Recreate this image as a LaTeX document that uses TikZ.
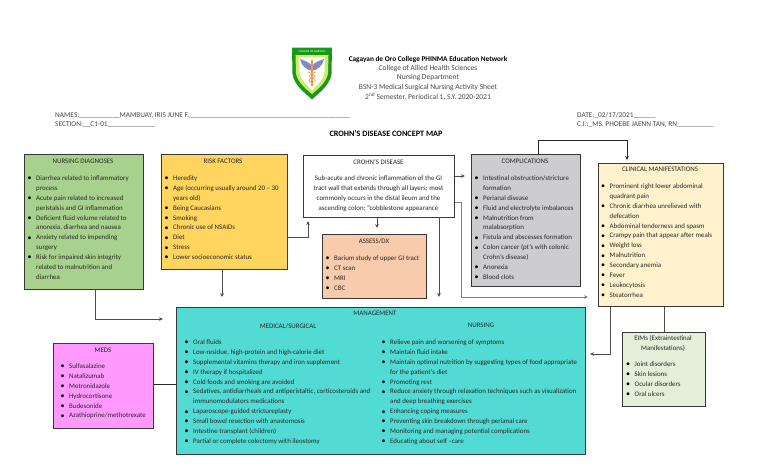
\documentclass[tikz,border=0pt]{standalone}
\usepackage{fontspec}
\setmainfont{Carlito}
\usetikzlibrary{arrows.meta}
\catcode`\_=12
\newcommand{\bl}[1]{\makebox[0pt][r]{\raisebox{-0.3pt}{\fontsize{8}{8}\selectfont\textcolor{black}{\char"2022}}\hspace{4.6pt}}#1\\}
\newcommand{\ct}[1]{#1\\}
\tikzset{
  x=1pt,y=-1pt,
  box/.style={draw=black!78,line width=0.9pt,inner sep=0,anchor=north west},
  txt/.style={inner sep=0,font=\fontsize{6.9}{9.9}\selectfont,text=black!85},
  lst/.style={txt,anchor=north west,align=left},
  ttl/.style={txt,anchor=center,align=center},
  conn/.style={draw=black!70,line width=1pt},
  arr/.style={conn,-{Stealth[length=4pt,width=3.6pt]}},
  hdr/.style={inner sep=0,font=\fontsize{7.5}{8}\selectfont,text=black!72,anchor=center}
}
\begin{document}
\begin{tikzpicture}
\useasboundingbox (0,0) rectangle (768,466);
\fill[white] (0,0) rectangle (768,466);
% logo
\fill[green!55!black!90!white] (292,47.5) -- (332,47.5) -- (331.5,74) .. controls (330,85) and (319,93) .. (312,99.5) .. controls (305,93) and (294,85) .. (292.5,74) -- cycle;
\fill[yellow!70!green!60!white] (295.5,55) -- (328.5,55) -- (328,73) .. controls (327,82) and (318,89) .. (312,94) .. controls (306,89) and (297,82) .. (296,73) -- cycle;
\fill[white] (299,57) -- (325,57) -- (324.5,72) .. controls (323.5,80) and (316.5,85.5) .. (312,90) .. controls (307.5,85.5) and (300.5,80) .. (299.5,72) -- cycle;
\fill[blue!35!gray!70] (300,59) .. controls (306,61) and (310,63) .. (312,66) .. controls (314,63) and (318,61) .. (324,59) .. controls (323,66) and (317,70) .. (312,71) .. controls (307,70) and (301,66) .. (300,59) -- cycle;
\draw[orange!70!brown!80,line width=1.1pt] (312,60) -- (312,86);
\draw[orange!70!brown!70,line width=0.7pt] (308,72) .. controls (316,75) and (317,77) .. (312,78) .. controls (308,79) and (308,81) .. (312,83);
\draw[orange!70!brown!70,line width=0.7pt] (316,72) .. controls (308,75) and (307,77) .. (312,78) .. controls (316,79) and (316,81) .. (312,83);
\node[inner sep=0,font=\fontsize{3}{3}\selectfont,text=white] (logotext) at (312,51.5) {COLLEGE OF NURSING};
% header
\node[hdr,font=\fontsize{7.3}{8}\selectfont\bfseries,text=black] (h1) at (428,59.5) {Cagayan de Oro College PHINMA Education Network};
\node[hdr] (h2) at (428,69) {College of Allied Health Sciences};
\node[hdr] (h3) at (428,78) {Nursing Department};
\node[hdr] (h4) at (428,87.5) {BSN-3 Medical Surgical Nursing Activity Sheet};
\node[hdr] (h5) at (428,97) {2\textsuperscript{nd} Semester, Periodical 1, S.Y. 2020-2021};
\node[hdr,anchor=west,font=\fontsize{7.35}{8}\selectfont] (h6) at (55,115.5) {NAMES:___________MAMBUAY, IRIS JUNE F.____________________________________________};
\node[hdr,anchor=west,font=\fontsize{7.35}{8}\selectfont] (h7) at (55,124.5) {SECTION:__C1-01_____________};
\node[hdr,anchor=west,font=\fontsize{7.35}{8}\selectfont] (h8) at (577,115.5) {DATE:_02/17/2021______};
\node[hdr,anchor=west,font=\fontsize{7.35}{8}\selectfont] (h9) at (577,124.5) {C.I.:_MS. PHOEBE JAENN TAN, RN__________};
\node[hdr,font=\fontsize{8.2}{9}\selectfont\bfseries,text=black] (h10) at (386,134) {CROHN'S DISEASE CONCEPT MAP};
% boxes
\node[box,fill={rgb,255:red,169;green,209;blue,142},minimum width=119.5pt,minimum height=135pt] (nd) at (23.5,154) {};
\node[box,fill={rgb,255:red,255;green,212;blue,95},minimum width=126pt,minimum height=115pt] (rf) at (161,154) {};
\node[box,fill=white,minimum width=151pt,minimum height=62pt] (cd) at (303,154.5) {};
\node[box,fill={rgb,255:red,248;green,203;blue,173},minimum width=104pt,minimum height=64pt] (ax) at (322,234) {};
\node[box,fill={rgb,255:red,205;green,204;blue,206},minimum width=109pt,minimum height=132pt] (cp) at (471,154) {};
\node[box,fill={rgb,255:red,255;green,242;blue,204},minimum width=125pt,minimum height=143pt] (cm) at (598,163) {};
\node[box,fill={rgb,255:red,226;green,240;blue,217},minimum width=83pt,minimum height=74pt] (em) at (622,332) {};
\node[box,fill={rgb,255:red,82;green,219;blue,212},minimum width=409pt,minimum height=147pt] (mg) at (176,307) {};
\node[box,fill={rgb,255:red,255;green,153;blue,255},minimum width=100pt,minimum height=85pt] (md) at (53,343) {};
% connectors
\coordinate (a1) at (163,319);
\draw[arr] (95,0 |- nd.south) -- (95,319) -- (a1);
\coordinate (a2) at (222,297);
\draw[arr] (222,0 |- rf.south) -- (a2);
\coordinate (a3) at (308,221);
\draw[arr] (rf.east |- 0,237) -- (308,237) -- (a3);
\coordinate (a4) at (377,228);
\draw[arr] (377,0 |- cd.south) -- (a4);
\coordinate (a5) at (439,297);
\draw[arr] (439,0 |- cd.south) -- (a5);
\coordinate (a6) at (465,176);
\draw[arr] (cd.east |- 0,176) -- (a6);
\coordinate (a7) at (588,297);
\draw[arr,draw=black!50] (cd.east |- 0,202) -- (461,202) -- (461,297) -- (a7);
\coordinate (a8) at (627,160);
\draw[arr,draw=black!85] (538,0 |- cp.north) -- (538,140.5) -- (627,140.5) -- (a8);
\coordinate (a9) at (590,354);
\draw[arr] (610,0 |- cm.south) -- (610,354) -- (a9);
\draw[conn] (664,0 |- cm.south) -- (664,0 |- em.north);
\draw[conn,draw=black!85] (md.east |- 0,384) -- (mg.west |- 0,384);
% nursing diagnoses
\node[ttl] (t1) at (83,161) {NURSING DIAGNOSES};
\node[lst] (l1) at (36,175.5) {\bl{Diarrhea related to inflammatory}\ct{process}\bl{Acute pain related to increased}\ct{peristalsis and GI inflammation}\bl{Deficient fluid volume related to}\ct{anorexia, diarrhea and nausea}\bl{Anxiety related to impending}\ct{surgery}\bl{Risk for impaired skin integrity}\ct{related to malnutrition and}\ct{diarrhea}};
% risk factors
\node[ttl] (t2) at (223,161) {RISK FACTORS};
\node[lst] (l2) at (173,175.5) {\bl{Heredity}\bl{Age (occurring usually around 20 – 30}\ct{years old)}\bl{Being Caucasians}\bl{Smoking}\bl{Chronic use of NSAIDs}\bl{Diet}\bl{Stress}\bl{Lower socioeconomic status}};
% crohn
\node[ttl] (t3) at (378.5,162) {CROHN'S DISEASE};
\node[txt,anchor=north,align=center] (l3) at (378.5,175.5) {Sub-acute and chronic inflammation of the GI\\tract wall that extends through all layers; most\\commonly occurs in the distal ileum and the\\ascending colon; “cobblestone appearance};
% assess
\node[ttl] (t4) at (374,241) {ASSESS/DX};
\node[lst] (l4) at (334,255.5) {\bl{Barium study of upper GI tract}\bl{CT scan}\bl{MRI}\bl{CBC}};
% complications
\node[ttl] (t5) at (525,161) {COMPLICATIONS};
\node[lst] (l5) at (483,175.5) {\bl{Intestinal obstruction/stricture}\ct{formation}\bl{Perianal disease}\bl{Fluid and electrolyte imbalances}\bl{Malnutrition from}\ct{malabsorption}\bl{Fistula and abscesses formation}\bl{Colon cancer (pt's with colonic}\ct{Crohn's disease)}\bl{Anorexia}\bl{Blood clots}};
% clinical
\node[ttl] (t6) at (660,169) {CLINICAL MANIFESTATIONS};
\node[lst] (l6) at (609.5,183.5) {\bl{Prominent right lower abdominal}\ct{quadrant pain}\bl{Chronic diarrhea unrelieved with}\ct{defecation}\bl{Abdominal tenderness and spasm}\bl{Crampy pain that appear after meals}\bl{Weight loss}\bl{Malnutrition}\bl{Secondary anemia}\bl{Fever}\bl{Leukocytosis}\bl{Steatorrhea}};
% eims
\node[txt,anchor=north,align=center] (t7) at (663,335.5) {EIMs (Extraintestinal\\Manifestations)};
\node[lst] (l7) at (634.5,361.5) {\bl{Joint disorders}\bl{Skin lesions}\bl{Ocular disorders}\bl{Oral ulcers}};
% meds
\node[ttl] (t8) at (103,350) {MEDS};
\node[lst] (l8) at (69,363.5) {\bl{Sulfasalazine}\bl{Natalizumab}\bl{Metronidazole}\bl{Hydrocortisone}\bl{Budesonide}\bl{Azathioprine/methotrexate}};
% management
\node[ttl] (t9) at (375,313) {MANAGEMENT};
\node[ttl] (t10) at (288,326) {MEDICAL/SURGICAL};
\node[ttl] (t11) at (481,325.5) {NURSING};
\node[lst] (l9) at (193,339.5) {\bl{Oral fluids}\bl{Low-residue, high-protein and high-calorie diet}\bl{Supplemental vitamins therapy and iron supplement}\bl{IV therapy if hospitalized}\bl{Cold foods and smoking are avoided}\bl{Sedatives, antidiarrheals and antiperistaltic, corticosteroids and}\ct{immunomodulators medications}\bl{Laparoscope-guided strictureplasty}\bl{Small bowel resection with anastomosis}\bl{Intestine transplant (children)}\bl{Partial or complete colectomy with ileostomy}};
\node[lst] (l10) at (390,339.5) {\bl{Relieve pain and worsening of symptoms}\bl{Maintain fluid intake}\bl{Maintain optimal nutrition by suggesting types of food appropriate}\ct{for the patient's diet}\bl{Promoting rest}\bl{Reduce anxiety through relaxation techniques such as visualization}\ct{and deep breathing exercises}\bl{Enhancing coping measures}\bl{Preventing skin breakdown through perianal care}\bl{Monitoring and managing potential complications}\bl{Educating about self –care}};
\end{tikzpicture}
\end{document}
